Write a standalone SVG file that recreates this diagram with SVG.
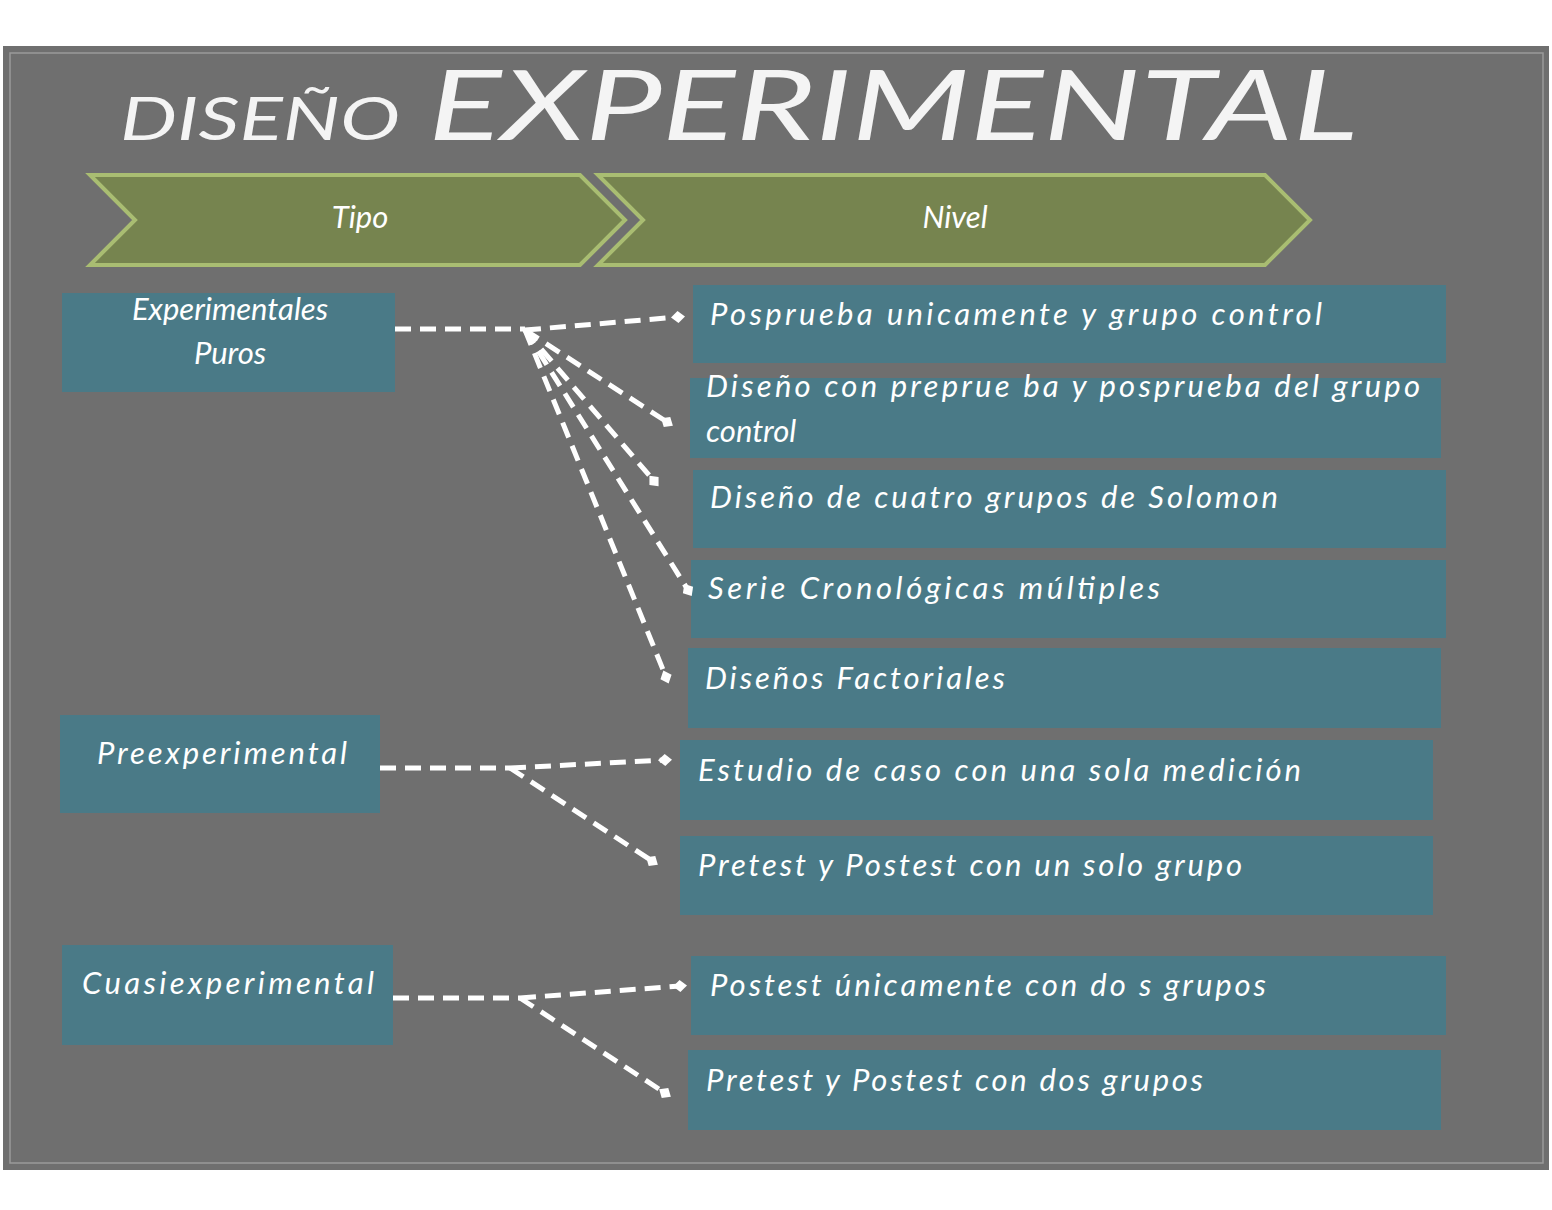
<svg xmlns="http://www.w3.org/2000/svg" width="1552" height="1210" viewBox="0 0 1552 1210">
<style>
.box{fill:#4a7a87}
.t{font-family:"Lato","Liberation Sans",sans-serif;font-style:italic;fill:#fff;font-size:31px}
.c{stroke:#fff;stroke-width:5;stroke-dasharray:16 9;fill:none}
.chev{fill:#76844f;stroke:#a9bd72;stroke-width:4}
</style>
<defs>
<marker id="d" markerWidth="16" markerHeight="16" refX="8" refY="8" orient="auto" markerUnits="userSpaceOnUse"><path d="M1 8L8 2L15 8L8 14Z" fill="#fff"/></marker>
</defs>
<rect width="1552" height="1210" fill="#fff"/>
<rect x="3" y="46" width="1546" height="1124" fill="#6f6f6f"/>
<rect x="10" y="53" width="1533" height="1110" fill="none" stroke="#9a9a9a" stroke-width="1.5"/>
<g id="title">
<text x="120" y="140" font-family="Lato,sans-serif" font-style="italic" font-size="60" fill="#f4f4f4" textLength="280" lengthAdjust="spacingAndGlyphs">DISEÑO</text>
<text x="428" y="140" font-family="Lato,sans-serif" font-style="italic" font-size="98" fill="#f4f4f4" textLength="930" lengthAdjust="spacingAndGlyphs">EXPERIMENTAL</text>
</g>
<g id="tipo"><path class="chev" d="M90 175H580L625 220L580 265H90L135 220Z"/><text class="t" x="360" y="228" text-anchor="middle">Tipo</text></g>
<g id="nivel"><path class="chev" d="M598 175H1265L1310 220L1265 265H598L643 220Z"/><text class="t" x="955" y="228" text-anchor="middle">Nivel</text></g>
<g id="n1"><rect class="box" x="62" y="293" width="333" height="99"/><text class="t" x="230" y="320" text-anchor="middle">Experimentales</text><text class="t" x="230" y="364" text-anchor="middle">Puros</text></g>
<g id="n2"><rect class="box" x="60" y="715" width="320" height="98"/><text class="t" x="97" y="764" textLength="250">Preexperimental</text></g>
<g id="n3"><rect class="box" x="62" y="945" width="331" height="100"/><text class="t" x="82" y="994" textLength="292">Cuasiexperimental</text></g>
<g id="r1"><rect class="box" x="693" y="285" width="753" height="78"/><text class="t" x="710" y="325" textLength="612">Posprueba unicamente  y grupo control</text></g>
<g id="r2"><rect class="box" x="690" y="378" width="751" height="80"/><text class="t" x="706" y="397" textLength="714">Diseño con  preprue ba  y posprueba  del grupo</text><text class="t" x="706" y="442">control</text></g>
<g id="r3"><rect class="box" x="693" y="470" width="753" height="78"/><text class="t" x="710" y="508" textLength="568">Diseño de cuatro grupos de Solomon</text></g>
<g id="r4"><rect class="box" x="691" y="560" width="755" height="78"/><text class="t" x="708" y="599" textLength="452">Serie Cronológicas múltiples</text></g>
<g id="r5"><rect class="box" x="688" y="648" width="753" height="80"/><text class="t" x="705" y="689" textLength="300">Diseños Factoriales</text></g>
<g id="r6"><rect class="box" x="680" y="740" width="753" height="80"/><text class="t" x="698" y="781" textLength="603">Estudio de caso con una sola medición</text></g>
<g id="r7"><rect class="box" x="680" y="836" width="753" height="79"/><text class="t" x="698" y="876" textLength="544">Pretest y Postest con un solo grupo</text></g>
<g id="r8"><rect class="box" x="691" y="956" width="755" height="79"/><text class="t" x="710" y="996" textLength="556">Postest únicamente con do s grupos</text></g>
<g id="r9"><rect class="box" x="688" y="1050" width="753" height="80"/><text class="t" x="706" y="1091" textLength="497">Pretest y Postest con dos grupos</text></g>
<g id="connectors">
<path class="c" d="M395 329H525"/>
<path class="c" d="M525 330L678 317" marker-end="url(#d)"/>
<path class="c" d="M525 330L667 422" marker-end="url(#d)"/>
<path class="c" d="M525 330L654 481" marker-end="url(#d)"/>
<path class="c" d="M525 330L688 590" marker-end="url(#d)"/>
<path class="c" d="M525 330L666 677" marker-end="url(#d)"/>
<path class="c" d="M380 768H510"/>
<path class="c" d="M510 768L665 760" marker-end="url(#d)"/>
<path class="c" d="M510 768L652 861" marker-end="url(#d)"/>
<path class="c" d="M393 998H520"/>
<path class="c" d="M520 998L680 986" marker-end="url(#d)"/>
<path class="c" d="M520 998L665 1093" marker-end="url(#d)"/>
</g>
</svg>
